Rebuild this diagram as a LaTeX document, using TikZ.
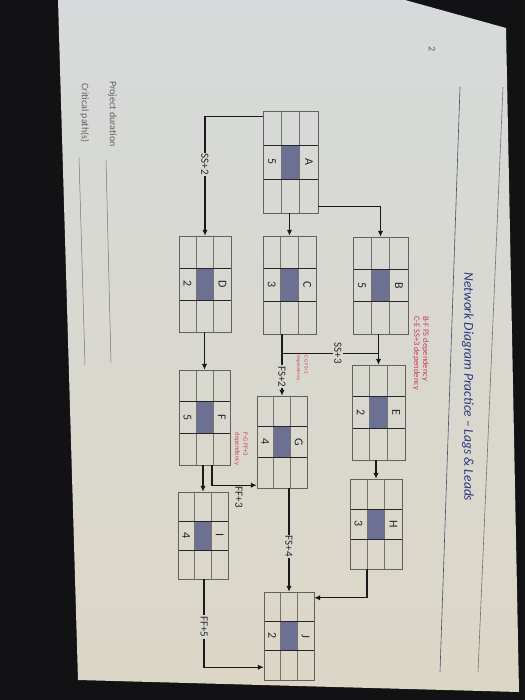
\documentclass[tikz,border=0pt]{standalone}
\usepackage{fontspec}
\setmainfont{Carlito}
\usetikzlibrary{calc,arrows.meta}
\definecolor{bgdark}{RGB}{18,18,20}
\definecolor{pagetop}{RGB}{214,218,218}
\definecolor{pagebot}{RGB}{220,214,198}
\definecolor{pagecol}{RGB}{218,217,209}
\definecolor{slate}{RGB}{108,113,148}
\definecolor{notered}{RGB}{205,62,95}
\definecolor{titleblue}{RGB}{40,55,130}
\definecolor{rulecol}{RGB}{70,80,105}
\newcommand{\actnode}[7]{%
  \node[actbox, minimum width=#4, minimum height=#5] (#1) at (#2,#3) {};
  \fill[slate] ($(#1.north west)!1/3!(#1.south east)$) rectangle ($(#1.north west)!2/3!(#1.south east)$);
  \draw[gridv] ($(#1.north west)!1/3!(#1.north east)$) -- ($(#1.south west)!1/3!(#1.south east)$)
               ($(#1.north west)!2/3!(#1.north east)$) -- ($(#1.south west)!2/3!(#1.south east)$);
  \draw[gridh] ($(#1.north west)!1/3!(#1.south west)$) -- ($(#1.north east)!1/3!(#1.south east)$)
               ($(#1.north west)!2/3!(#1.south west)$) -- ($(#1.north east)!2/3!(#1.south east)$);
  \draw[actframe] (#1.north west) rectangle (#1.south east);
  \node[cell] (#1-name) at ($(#1.center)!2/3!(#1.east)$) {#6};
  \node[cell] (#1-dur) at ($(#1.center)!2/3!(#1.west)$) {#7};
}
\begin{document}
\begin{tikzpicture}[x=1pt,y=-1pt,
  actbox/.style={rectangle, draw=none, inner sep=0pt},
  actframe/.style={draw=black!62, line width=0.55pt},
  gridv/.style={draw=black!55, line width=0.5pt},
  gridh/.style={draw=black!85, line width=0.8pt},
  cell/.style={rotate=-90, inner sep=0pt, font=\fontsize{12}{14}\selectfont, text=black!85},
  line/.style={draw=black!90, line width=1.3pt},
  conn/.style={line, -{Latex[length=6pt,width=5.5pt]}},
  lbl/.style={rotate=-90, fill=pagecol, inner sep=1.2pt, font=\fontsize{11}{13}\selectfont, text=black!85},
  note/.style={rotate=-90, align=left, inner sep=0pt, text=notered},
  pagetext/.style={rotate=-90, inner sep=0pt, text=black!62, font=\fontsize{10}{12}\selectfont}
]
\useasboundingbox (0,0) rectangle (525,700);
% photo background and page
\fill[bgdark] (0,0) rectangle (525,700);
\shade[top color=pagetop, bottom color=pagebot] (58,0) -- (405,0) -- (506,28) -- (519,692) -- (78,680) -- cycle;
% header rules and title
\draw[rulecol, line width=0.6pt] (460,87) -- (440,672);
\draw[black!55, line width=0.6pt] (503,87) -- (478,672);
\node[rotate=-90, inner sep=0pt, text=titleblue, font=\itshape\fontsize{13.5}{16}\selectfont] (title) at (468,387) {Network Diagram Practice – Lags \& Leads};
\node[pagetext] (pnum) at (432,49) {2};
% notes
\node[note, font=\fontsize{8.5}{9}\selectfont] (note1) at (421,353) {B-F FS dependency\\C-E SS+3 dependency};
\node[note, font=\fontsize{5}{7.5}\selectfont] (note2) at (302,368) {C-G FS+2\\dependency};
\node[note, font=\fontsize{6.5}{8}\selectfont] (note3) at (241,449) {F-G FF+3\\dependency};
% activities
\actnode{A}{290.5}{162}{55pt}{102pt}{A}{5}
\actnode{B}{380.5}{285.5}{55pt}{97pt}{B}{5}
\actnode{C}{289.5}{285}{53pt}{98pt}{C}{3}
\actnode{D}{205}{284}{52pt}{96pt}{D}{2}
\actnode{E}{378.5}{412.5}{53pt}{95pt}{E}{2}
\actnode{F}{204.5}{417.5}{51pt}{95pt}{F}{5}
\actnode{G}{282}{442}{50pt}{92pt}{G}{4}
\actnode{H}{376}{524}{52pt}{90pt}{H}{3}
\actnode{I}{203}{535.5}{50pt}{87pt}{I}{4}
\actnode{J}{289}{636}{50pt}{88pt}{J}{2}
% connectors
\draw[conn] ($(A.south east)+(0,-7)$) -| (B.north);
\draw[conn] (C.north |- A.south) -- (C.north);
\draw[conn] ($(A.north west)+(0,6)$) -| node[lbl, pos=0.70] (lSS2) {SS+2} (D.north);
\draw[conn] (E.north |- B.south) -- (E.north);
\coordinate (cj) at ($(G.north |- C.south)+(0,19)$);
\draw[line] (G.north |- C.south) -- (cj) -- node[lbl, pos=0.58] (lSS3) {SS+3} (cj -| E.north);
\draw[conn] (cj) -- node[lbl, pos=0.55] (lFS2) {FS+2} (G.north);
\draw[conn] (F.north |- D.south) -- (F.north);
\draw[conn] (I.north |- F.south) -- (I.north);
\draw[conn] ($(F.south)+(7.5,0)$) |- ($(G.south west)+(0,-3)$);
\node[lbl, fill=none] (lFF3) at ($(G.south west)+(-18,9)$) {FF+3};
\draw[conn] (J.north |- G.south) -- node[lbl, pos=0.56] (lFS4) {FS+4} (J.north);
\draw[conn] (H.north |- E.south) -- (H.north);
\draw[conn] ($(H.south)+(-9,0)$) |- ($(J.north east)+(0,6)$);
\draw[conn] ($(I.south)+(1,0)$) |- node[lbl, pos=0.27] (lFF5) {FF+5} ($(J.south west)+(0,-13)$);
% answer lines
\node[pagetext, anchor=south] (pdur) at (108,114) {Project duration};
\draw[black!55, line width=0.5pt] (106,160) -- (111,363);
\node[pagetext, anchor=south] (cpath) at (80,113) {Critical path(s)};
\draw[black!55, line width=0.5pt] (79,158) -- (85,365);
\end{tikzpicture}
\end{document}
